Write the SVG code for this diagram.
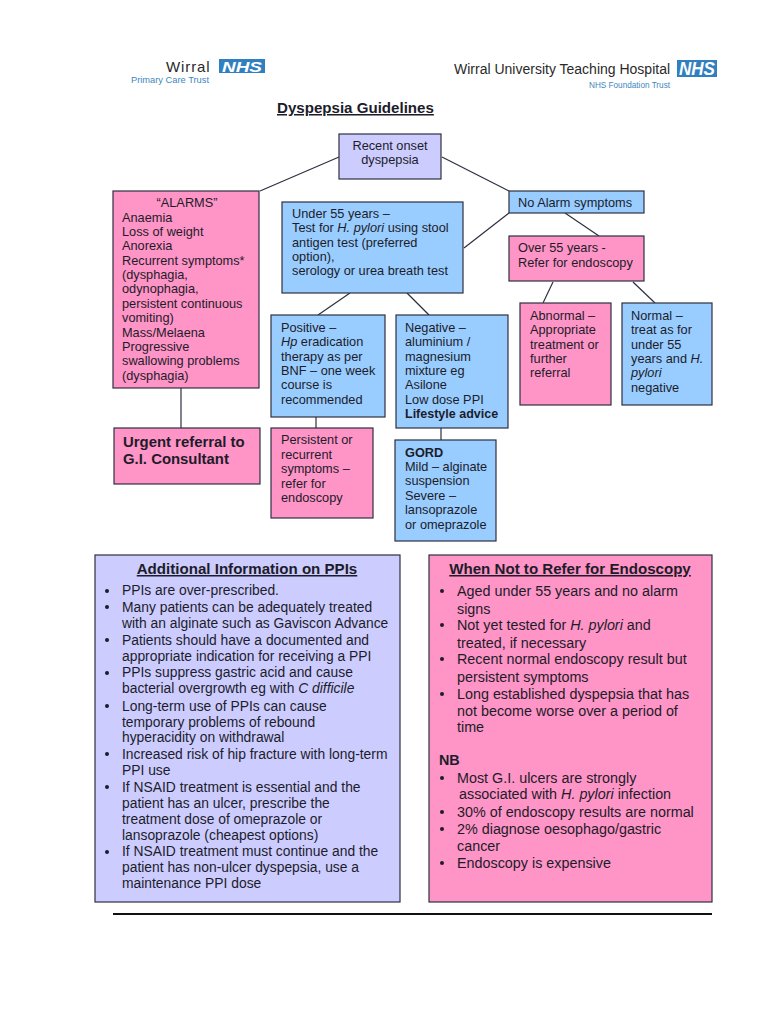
<svg xmlns="http://www.w3.org/2000/svg" width="768" height="1024" viewBox="0 0 768 1024">
<style>
text{font-family:"Liberation Sans",Arial,sans-serif;font-size:12.75px;fill:#1c1c2a}
.n{stroke:#2e3040;stroke-width:1.2}
.p{fill:#ff94c6}.b{fill:#99ccff}.l{fill:#ccccff}
.c line{stroke:#2e3040;stroke-width:1.2}
.big{font-size:14.9px}
.h{font-size:15.1px;font-weight:bold;text-decoration:underline}
.bd{font-weight:bold}
.i{font-style:italic}
.nhs{font-weight:bold;font-style:italic;fill:#fff}
.lg{fill:#2a2a2a}.tr{fill:#3d87c0}
.m1 text{font-size:13.85px}
.m2 text{font-size:14.35px}
.m1 circle,.m2 circle{fill:#1c1c2a}
</style>
<rect width="768" height="1024" fill="#fff"/>
<g id="logo-left">
<text x="166" y="72" class="lg" style="font-size:15px;letter-spacing:.9px">Wirral</text>
<rect x="219" y="59" width="46" height="14" fill="#2f7fc1"/>
<text x="222" y="71.500" class="nhs" style="font-size:15.500px" textLength="40" lengthAdjust="spacingAndGlyphs">NHS</text>
<text x="131" y="83" class="tr" style="font-size:9.300px">Primary Care Trust</text>
</g>
<g id="logo-right">
<text x="454" y="74" class="lg" style="font-size:14px">Wirral University Teaching Hospital</text>
<rect x="677" y="60" width="40" height="17" fill="#2f7fc1"/>
<text x="679" y="75" class="nhs" style="font-size:19px" textLength="36" lengthAdjust="spacingAndGlyphs">NHS</text>
<text x="589" y="88" class="tr" style="font-size:8.200px">NHS Foundation Trust</text>
</g>
<text id="title" x="277" y="113" class="h">Dyspepsia Guidelines</text>
<g id="connectors" class="c">
<line x1="339" y1="157" x2="260" y2="191"/>
<line x1="442" y1="157" x2="509" y2="191"/>
<line x1="509" y1="213" x2="464" y2="248"/>
<line x1="565" y1="213" x2="599" y2="236"/>
<line x1="350" y1="293" x2="318" y2="315"/>
<line x1="407" y1="293" x2="429" y2="315"/>
<line x1="553" y1="282" x2="543" y2="303"/>
<line x1="633" y1="282" x2="655" y2="303"/>
<line x1="181" y1="388" x2="181" y2="428"/>
<line x1="316" y1="417" x2="316" y2="428"/>
<line x1="441" y1="428" x2="441" y2="440"/>
</g>
<g id="recent"><rect class="n l" x="339" y="134" width="102" height="45"/><text x="390" y="150" text-anchor="middle">Recent onset</text><text x="390" y="164" text-anchor="middle">dyspepsia</text></g>
<g id="alarms"><rect class="n p" x="113" y="191" width="146" height="197"/>
<text x="187" y="207" text-anchor="middle">“ALARMS”</text>
<text x="122" y="222">Anaemia</text><text x="122" y="236">Loss of weight</text><text x="122" y="250">Anorexia</text><text x="122" y="265">Recurrent symptoms*</text><text x="122" y="279">(dysphagia,</text><text x="122" y="293">odynophagia,</text><text x="122" y="308">persistent continuous</text><text x="122" y="322">vomiting)</text><text x="122" y="337">Mass/Melaena</text><text x="122" y="351">Progressive</text><text x="122" y="365">swallowing problems</text><text x="122" y="380">(dysphagia)</text></g>
<g id="under55"><rect class="n b" x="282" y="202" width="181" height="91"/>
<text x="292" y="218">Under 55 years –</text><text x="292" y="232">Test for <tspan class="i">H. pylori</tspan> using stool</text><text x="292" y="247">antigen test (preferred</text><text x="292" y="261">option),</text><text x="292" y="275">serology or urea breath test</text></g>
<g id="noalarm"><rect class="n b" x="509" y="191" width="135" height="22"/><text x="518" y="207">No Alarm symptoms</text></g>
<g id="over55"><rect class="n p" x="509" y="236" width="135" height="45"/><text x="518" y="252">Over 55 years -</text><text x="518" y="267">Refer for endoscopy</text></g>
<g id="abnormal"><rect class="n p" x="520" y="303" width="91" height="102"/><text x="530" y="320">Abnormal –</text><text x="530" y="334">Appropriate</text><text x="530" y="349">treatment or</text><text x="530" y="363">further</text><text x="530" y="377">referral</text></g>
<g id="normal"><rect class="n b" x="622" y="303" width="90" height="102"/><text x="631" y="320">Normal –</text><text x="631" y="334">treat as for</text><text x="631" y="349">under 55</text><text x="631" y="363">years and <tspan class="i">H.</tspan></text><text x="631" y="377" class="i">pylori</text><text x="631" y="392">negative</text></g>
<g id="positive"><rect class="n b" x="271" y="315" width="114" height="102"/><text x="281" y="332">Positive –</text><text x="281" y="346"><tspan class="i">Hp</tspan> eradication</text><text x="281" y="361">therapy as per</text><text x="281" y="375">BNF – one week</text><text x="281" y="389">course is</text><text x="281" y="404">recommended</text></g>
<g id="negative"><rect class="n b" x="396" y="315" width="112" height="113"/><text x="405" y="332">Negative –</text><text x="405" y="346">aluminium /</text><text x="405" y="361">magnesium</text><text x="405" y="375">mixture eg</text><text x="405" y="389">Asilone</text><text x="405" y="404">Low dose PPI</text><text x="405" y="418" class="bd" style="font-size:12.5px">Lifestyle advice</text></g>
<g id="urgent"><rect class="n p" x="114" y="428" width="146" height="56"/><text x="123" y="447" class="big bd">Urgent referral to</text><text x="123" y="464" class="big bd">G.I. Consultant</text></g>
<g id="persistent"><rect class="n p" x="271" y="428" width="102" height="90"/><text x="281" y="444">Persistent or</text><text x="281" y="459">recurrent</text><text x="281" y="473">symptoms –</text><text x="281" y="488">refer for</text><text x="281" y="502">endoscopy</text></g>
<g id="gord"><rect class="n b" x="395" y="440" width="101" height="101"/><text x="405" y="457" class="bd">GORD</text><text x="405" y="471">Mild – alginate</text><text x="405" y="485">suspension</text><text x="405" y="500">Severe –</text><text x="405" y="514">lansoprazole</text><text x="405" y="529">or omeprazole</text></g>
<g id="ppis" class="m1"><rect class="n l" x="95" y="555" width="305" height="347"/>
<text x="247" y="574" text-anchor="middle" class="h" style="font-size:15.1px">Additional Information on PPIs</text>
<circle cx="107" cy="591" r="2"/><text x="122" y="595">PPIs are over-prescribed.</text>
<circle cx="107" cy="607" r="2"/><text x="122" y="612">Many patients can be adequately treated</text>
<text x="122" y="628">with an alginate such as Gaviscon Advance</text>
<circle cx="107" cy="640" r="2"/><text x="122" y="645">Patients should have a documented and</text>
<text x="122" y="661">appropriate indication for receiving a PPI</text>
<circle cx="107" cy="673" r="2"/><text x="122" y="677">PPIs suppress gastric acid and cause</text>
<text x="122" y="693">bacterial overgrowth eg with <tspan class="i">C difficile</tspan></text>
<circle cx="107" cy="706" r="2"/><text x="122" y="711">Long-term use of PPIs can cause</text>
<text x="122" y="727">temporary problems of rebound</text>
<text x="122" y="742">hyperacidity on withdrawal</text>
<circle cx="107" cy="754" r="2"/><text x="122" y="759">Increased risk of hip fracture with long-term</text>
<text x="122" y="775">PPI use</text>
<circle cx="107" cy="787" r="2"/><text x="122" y="792">If NSAID treatment is essential and the</text>
<text x="122" y="808">patient has an ulcer, prescribe the</text>
<text x="122" y="824">treatment dose of omeprazole or</text>
<text x="122" y="840">lansoprazole (cheapest options)</text>
<circle cx="107" cy="852" r="2"/><text x="122" y="856">If NSAID treatment must continue and the</text>
<text x="122" y="872">patient has non-ulcer dyspepsia, use a</text>
<text x="122" y="888">maintenance PPI dose</text>
</g>
<g id="notrefer" class="m2"><rect class="n p" x="429" y="555" width="283" height="347"/>
<text x="570" y="574" text-anchor="middle" class="h" style="font-size:15.1px">When Not to Refer for Endoscopy</text>
<circle cx="442" cy="591" r="2"/><text x="457" y="596">Aged under 55 years and no alarm</text>
<text x="457" y="614">signs</text>
<circle cx="442" cy="625" r="2"/><text x="457" y="630">Not yet tested for <tspan class="i">H. pylori</tspan> and</text>
<text x="457" y="648">treated, if necessary</text>
<circle cx="442" cy="659" r="2"/><text x="457" y="664">Recent normal endoscopy result but</text>
<text x="457" y="682">persistent symptoms</text>
<circle cx="442" cy="694" r="2"/><text x="457" y="699">Long established dyspepsia that has</text>
<text x="457" y="716">not become worse over a period of</text>
<text x="457" y="732">time</text>
<text x="439" y="765" class="bd">NB</text>
<circle cx="442" cy="778" r="2"/><text x="457" y="783">Most G.I. ulcers are strongly</text>
<text x="459" y="799">associated with <tspan class="i">H. pylori</tspan> infection</text>
<circle cx="442" cy="812" r="2"/><text x="457" y="817">30% of endoscopy results are normal</text>
<circle cx="442" cy="829" r="2"/><text x="457" y="834">2% diagnose oesophago/gastric</text>
<text x="457" y="851">cancer</text>
<circle cx="442" cy="863" r="2"/><text x="457" y="868">Endoscopy is expensive</text>
</g>
<line id="rule" x1="113" y1="914" x2="712" y2="914" stroke="#111" stroke-width="2"/>
</svg>
